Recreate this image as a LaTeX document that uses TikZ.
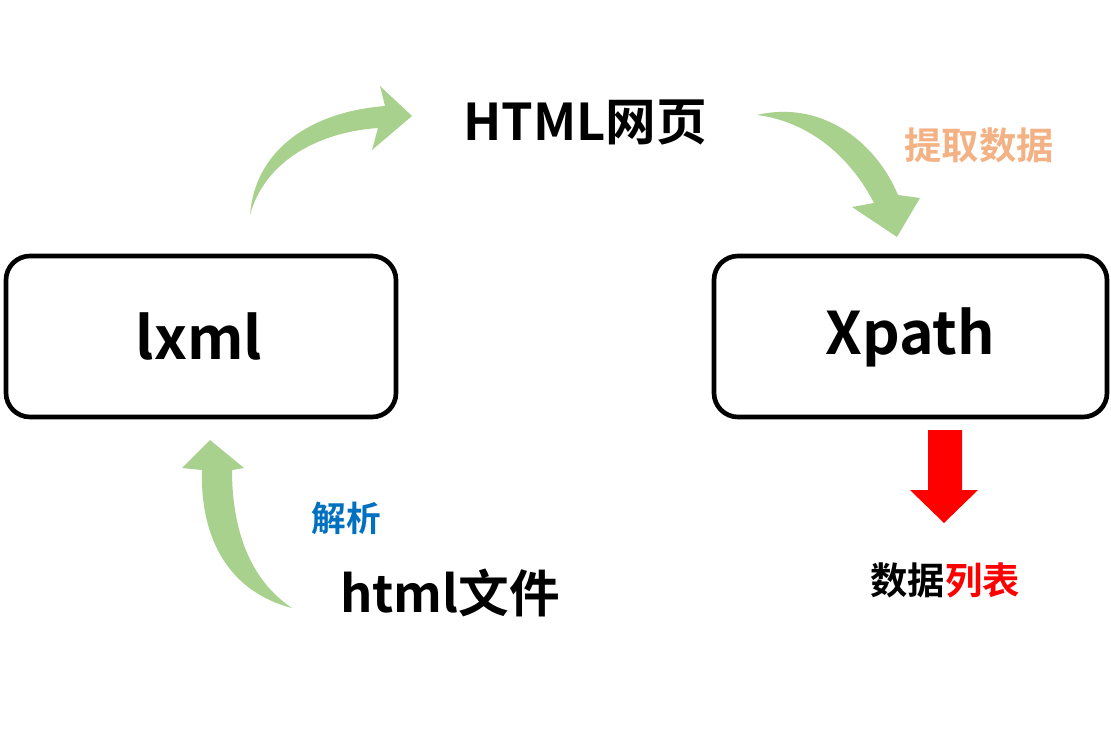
\documentclass[tikz,border=0pt]{standalone}
\usepackage{fontspec}
\setmainfont{Noto Sans CJK SC}[BoldFont={* Bold}]
\definecolor{grn}{HTML}{A9D18E}
\definecolor{sal}{HTML}{F4B183}
\definecolor{blu}{HTML}{0070C0}
\begin{document}
\begin{tikzpicture}[x=0.75pt,y=-0.75pt,
  box/.style={draw=black,line width=3.5pt,rounded corners=18pt},
  lbl/.style={font=\bfseries}]
\useasboundingbox[fill=white] (0,0) rectangle (1111,742);
\draw[box] (6,256) rectangle (396,417);
\draw[box] (714,256) rectangle (1107,417);
\node[lbl,font=\fontsize{44}{50}\selectfont\bfseries] (lx) at (199,337) {lxml};
\node[lbl,font=\fontsize{44}{50}\selectfont\bfseries] (xp) at (910,337) {Xpath};
\node[lbl,font=\fontsize{38}{44}\selectfont\bfseries] (html) at (585,122) {HTML网页};
\node[lbl,text=sal,font=\fontsize{28}{32}\selectfont\bfseries] (tq) at (979,145) {提取数据};
\node[lbl,text=blu,font=\fontsize{26}{30}\selectfont\bfseries] (jx) at (346,518) {解析};
\node[lbl,font=\fontsize{38}{44}\selectfont\bfseries] (hf) at (450,593) {html文件};
\node[lbl,font=\fontsize{28}{32}\selectfont\bfseries] (lb) at (945,580) {数据\textcolor{red}{列表}};
% green arrows
\fill[grn] (250,215) .. controls (255,150) and (310,112) .. (385,106)
  -- (380,86) -- (412,116) -- (372,150) -- (378,128)
  .. controls (320,132) and (265,160) .. (250,215) -- cycle;
\fill[grn] (757,115) .. controls (820,100) and (875,140) .. (898,195)
  -- (920,198) -- (897,237) -- (852,207) -- (874,203)
  .. controls (852,160) and (812,122) .. (757,115) -- cycle;
\fill[grn] (292,608) .. controls (230,592) and (200,540) .. (202,470)
  -- (182,468) -- (210,440) -- (244,468) -- (232,470)
  .. controls (232,530) and (250,580) .. (292,608) -- cycle;
% red arrow
\fill[red] (928,430) -- (962,430) -- (962,490) -- (978,490) -- (944,523) -- (910,490) -- (928,490) -- cycle;
\end{tikzpicture}
\end{document}
